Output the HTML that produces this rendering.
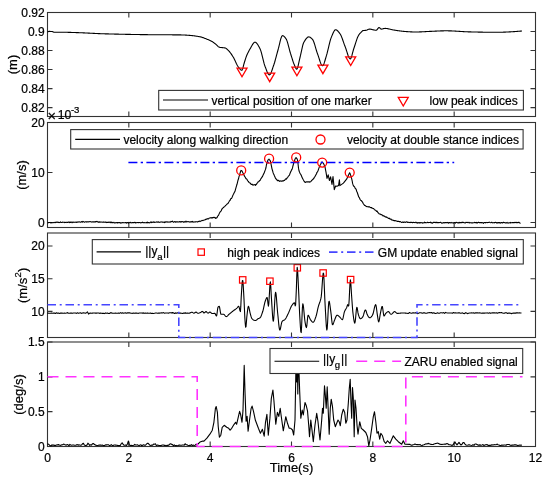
<!DOCTYPE html>
<html><head><meta charset="utf-8"><style>html,body{margin:0;padding:0;background:#fff;}svg{display:block;}</style></head>
<body>
<svg width="550" height="480" viewBox="0 0 550 480">
<rect width="550" height="480" fill="#fff"/>
<rect x="47.5" y="12.5" width="488.0" height="104.0" fill="none" stroke="#333333" stroke-width="1.1"/>
<path d="M128.83,116.5v-5M128.83,12.5v5M210.17,116.5v-5M210.17,12.5v5M291.50,116.5v-5M291.50,12.5v5M372.83,116.5v-5M372.83,12.5v5M454.17,116.5v-5M454.17,12.5v5M47.5,12.50h5M535.5,12.50h-5M47.5,31.52h5M535.5,31.52h-5M47.5,50.54h5M535.5,50.54h-5M47.5,69.56h5M535.5,69.56h-5M47.5,88.58h5M535.5,88.58h-5M47.5,107.60h5M535.5,107.60h-5" stroke="#333333" stroke-width="1.1" fill="none"/>
<rect x="47.5" y="122.5" width="488.0" height="105.0" fill="none" stroke="#333333" stroke-width="1.1"/>
<path d="M128.83,227.5v-5M128.83,122.5v5M210.17,227.5v-5M210.17,122.5v5M291.50,227.5v-5M291.50,122.5v5M372.83,227.5v-5M372.83,122.5v5M454.17,227.5v-5M454.17,122.5v5M47.5,122.50h5M535.5,122.50h-5M47.5,172.50h5M535.5,172.50h-5M47.5,222.50h5M535.5,222.50h-5" stroke="#333333" stroke-width="1.1" fill="none"/>
<rect x="47.5" y="233.0" width="488.0" height="104.5" fill="none" stroke="#333333" stroke-width="1.1"/>
<path d="M128.83,337.5v-5M128.83,233.0v5M210.17,337.5v-5M210.17,233.0v5M291.50,337.5v-5M291.50,233.0v5M372.83,337.5v-5M372.83,233.0v5M454.17,337.5v-5M454.17,233.0v5M47.5,246.06h5M535.5,246.06h-5M47.5,278.72h5M535.5,278.72h-5M47.5,311.38h5M535.5,311.38h-5" stroke="#333333" stroke-width="1.1" fill="none"/>
<rect x="47.5" y="342.0" width="488.0" height="104.5" fill="none" stroke="#333333" stroke-width="1.1"/>
<path d="M128.83,446.5v-5M128.83,342.0v5M210.17,446.5v-5M210.17,342.0v5M291.50,446.5v-5M291.50,342.0v5M372.83,446.5v-5M372.83,342.0v5M454.17,446.5v-5M454.17,342.0v5M47.5,342.00h5M535.5,342.00h-5M47.5,376.83h5M535.5,376.83h-5M47.5,411.67h5M535.5,411.67h-5M47.5,446.50h5M535.5,446.50h-5" stroke="#333333" stroke-width="1.1" fill="none"/>
<polyline points="47.50,31.90 48.00,31.67 48.50,31.48 49.00,31.40 49.50,31.40 50.00,31.41 50.50,31.43 51.00,31.45 51.50,31.47 52.00,31.50 52.50,31.63 53.00,31.87 53.50,32.10 54.00,32.20 54.50,32.20 55.00,32.20 55.50,32.20 56.00,32.20 56.50,32.20 57.00,32.20 57.50,32.20 58.00,32.20 58.50,32.20 59.00,32.20 59.50,32.20 60.00,32.20 60.50,32.20 61.00,32.20 61.50,32.21 62.00,32.21 62.50,32.21 63.00,32.22 63.50,32.23 64.00,32.24 64.50,32.24 65.00,32.25 65.50,32.26 66.00,32.28 66.50,32.29 67.00,32.30 67.50,32.31 68.00,32.33 68.50,32.34 69.00,32.36 69.50,32.37 70.00,32.39 70.50,32.40 71.00,32.42 71.50,32.43 72.00,32.45 72.50,32.47 73.00,32.48 73.50,32.50 74.00,32.51 74.50,32.53 75.00,32.55 75.50,32.56 76.00,32.58 76.50,32.59 77.00,32.61 77.50,32.63 78.00,32.64 78.50,32.66 79.00,32.68 79.50,32.70 80.00,32.72 80.50,32.74 81.00,32.76 81.50,32.78 82.00,32.80 82.50,32.82 83.00,32.84 83.50,32.87 84.00,32.89 84.50,32.91 85.00,32.94 85.50,32.96 86.00,32.99 86.50,33.01 87.00,33.04 87.50,33.06 88.00,33.09 88.50,33.11 89.00,33.14 89.50,33.16 90.00,33.19 90.50,33.22 91.00,33.24 91.50,33.27 92.00,33.29 92.50,33.32 93.00,33.34 93.50,33.37 94.00,33.39 94.50,33.42 95.00,33.44 95.50,33.47 96.00,33.49 96.50,33.51 97.00,33.54 97.50,33.56 98.00,33.58 98.50,33.60 99.00,33.62 99.50,33.64 100.00,33.66 100.50,33.68 101.00,33.70 101.50,33.72 102.00,33.74 102.50,33.75 103.00,33.77 103.50,33.79 104.00,33.80 104.50,33.81 105.00,33.83 105.50,33.84 106.00,33.86 106.50,33.87 107.00,33.88 107.50,33.90 108.00,33.91 108.50,33.92 109.00,33.94 109.50,33.95 110.00,33.96 110.50,33.98 111.00,33.99 111.50,34.00 112.00,34.01 112.50,34.03 113.00,34.04 113.50,34.05 114.00,34.06 114.50,34.08 115.00,34.09 115.50,34.10 116.00,34.11 116.50,34.13 117.00,34.14 117.50,34.15 118.00,34.16 118.50,34.17 119.00,34.18 119.50,34.20 120.00,34.21 120.50,34.22 121.00,34.23 121.50,34.24 122.00,34.25 122.50,34.26 123.00,34.27 123.50,34.28 124.00,34.29 124.50,34.30 125.00,34.31 125.50,34.33 126.00,34.34 126.50,34.35 127.00,34.36 127.50,34.37 128.00,34.38 128.50,34.39 129.00,34.39 129.50,34.40 130.00,34.41 130.50,34.42 131.00,34.43 131.50,34.44 132.00,34.45 132.50,34.46 133.00,34.47 133.50,34.48 134.00,34.49 134.50,34.49 135.00,34.50 135.50,34.51 136.00,34.52 136.50,34.53 137.00,34.53 137.50,34.54 138.00,34.55 138.50,34.56 139.00,34.57 139.50,34.57 140.00,34.58 140.50,34.59 141.00,34.59 141.50,34.60 142.00,34.61 142.50,34.61 143.00,34.62 143.50,34.63 144.00,34.63 144.50,34.64 145.00,34.65 145.50,34.65 146.00,34.66 146.50,34.66 147.00,34.67 147.50,34.67 148.00,34.68 148.50,34.69 149.00,34.69 149.50,34.70 150.00,34.70 150.50,34.70 151.00,34.71 151.50,34.71 152.00,34.72 152.50,34.72 153.00,34.73 153.50,34.73 154.00,34.73 154.50,34.74 155.00,34.74 155.50,34.74 156.00,34.74 156.50,34.75 157.00,34.75 157.50,34.75 158.00,34.76 158.50,34.76 159.00,34.76 159.50,34.76 160.00,34.76 160.50,34.77 161.00,34.77 161.50,34.77 162.00,34.77 162.50,34.78 163.00,34.78 163.50,34.78 164.00,34.78 164.50,34.78 165.00,34.79 165.50,34.79 166.00,34.79 166.50,34.79 167.00,34.79 167.50,34.80 168.00,34.80 168.50,34.80 169.00,34.80 169.50,34.81 170.00,34.81 170.50,34.81 171.00,34.82 171.50,34.82 172.00,34.82 172.50,34.83 173.00,34.83 173.50,34.83 174.00,34.84 174.50,34.84 175.00,34.85 175.50,34.85 176.00,34.85 176.50,34.86 177.00,34.86 177.50,34.87 178.00,34.88 178.50,34.88 179.00,34.89 179.50,34.89 180.00,34.90 180.50,34.91 181.00,34.92 181.50,34.93 182.00,34.95 182.50,34.96 183.00,34.98 183.50,35.00 184.00,35.02 184.50,35.05 185.00,35.07 185.50,35.10 186.00,35.13 186.50,35.16 187.00,35.19 187.50,35.22 188.00,35.26 188.50,35.29 189.00,35.33 189.50,35.36 190.00,35.40 190.50,35.44 191.00,35.48 191.50,35.53 192.00,35.58 192.50,35.63 193.00,35.68 193.50,35.74 194.00,35.80 194.50,35.87 195.00,35.94 195.50,36.01 196.00,36.09 196.50,36.17 197.00,36.25 197.50,36.33 198.00,36.42 198.50,36.51 199.00,36.61 199.50,36.71 200.00,36.81 200.50,36.91 201.00,37.02 201.50,37.15 202.00,37.29 202.50,37.45 203.00,37.62 203.50,37.81 204.00,38.00 204.50,38.20 205.00,38.40 205.50,38.60 206.00,38.80 206.50,39.00 207.00,39.20 207.50,39.40 208.00,39.60 208.50,39.81 209.00,40.02 209.50,40.24 210.00,40.48 210.50,40.72 211.00,40.97 211.50,41.23 212.00,41.51 212.50,41.82 213.00,42.16 213.50,42.51 214.00,42.88 214.50,43.27 215.00,43.66 215.50,44.05 216.00,44.44 216.50,44.85 217.00,45.32 217.50,45.83 218.00,46.33 218.50,46.77 219.00,47.11 219.50,47.30 220.00,47.39 220.50,47.45 221.00,47.50 221.50,47.55 222.00,47.60 222.50,47.65 223.00,47.69 223.50,47.73 224.00,47.78 224.50,47.84 225.00,47.92 225.50,48.10 226.00,48.38 226.50,48.75 227.00,49.18 227.50,49.64 228.00,50.11 228.50,50.59 229.00,51.11 229.50,51.69 230.00,52.31 230.50,52.97 231.00,53.66 231.50,54.39 232.00,55.15 232.50,55.93 233.00,56.73 233.50,57.54 234.00,58.40 234.50,59.40 235.00,60.48 235.50,61.60 236.00,62.74 236.50,63.83 237.00,64.85 237.50,65.76 238.00,66.50 238.50,67.17 239.00,67.84 239.50,68.49 240.00,69.08 240.50,69.58 241.00,69.95 241.50,70.16 242.00,70.11 242.50,69.23 243.00,67.67 243.50,65.73 244.00,63.73 244.50,62.00 245.00,60.46 245.50,58.90 246.00,57.38 246.50,56.00 247.00,54.80 247.50,53.68 248.00,52.63 248.50,51.64 249.00,50.71 249.50,49.83 250.00,49.00 250.50,48.15 251.00,47.25 251.50,46.33 252.00,45.43 252.50,44.58 253.00,43.81 253.50,43.16 254.00,42.65 254.50,42.32 255.00,42.20 255.50,42.30 256.00,42.58 256.50,43.01 257.00,43.59 257.50,44.28 258.00,45.07 258.50,45.93 259.00,46.85 259.50,47.79 260.00,48.75 260.50,49.90 261.00,51.39 261.50,53.14 262.00,55.08 262.50,57.13 263.00,59.20 263.50,61.23 264.00,63.13 264.50,64.83 265.00,66.25 265.50,67.54 266.00,68.88 266.50,70.21 267.00,71.48 267.50,72.62 268.00,73.59 268.50,74.33 269.00,74.78 269.50,74.89 270.00,74.58 270.50,73.90 271.00,72.90 271.50,71.66 272.00,70.25 272.50,68.74 273.00,67.20 273.50,65.71 274.00,64.28 274.50,62.72 275.00,61.02 275.50,59.21 276.00,57.34 276.50,55.45 277.00,53.57 277.50,51.74 278.00,50.00 278.50,48.18 279.00,46.15 279.50,44.03 280.00,41.92 280.50,39.95 281.00,38.21 281.50,36.84 282.00,35.93 282.50,35.60 283.00,35.69 283.50,35.94 284.00,36.33 284.50,36.84 285.00,37.42 285.50,38.07 286.00,38.75 286.50,39.64 287.00,40.88 287.50,42.41 288.00,44.15 288.50,46.02 289.00,47.96 289.50,49.89 290.00,51.74 290.50,53.44 291.00,55.01 291.50,56.61 292.00,58.21 292.50,59.79 293.00,61.32 293.50,62.75 294.00,64.06 294.50,65.23 295.00,66.43 295.50,67.63 296.00,68.60 296.50,69.15 297.00,69.02 297.50,68.02 298.00,66.35 298.50,64.23 299.00,61.90 299.50,59.58 300.00,57.50 300.50,55.47 301.00,53.20 301.50,50.84 302.00,48.51 302.50,46.35 303.00,44.47 303.50,43.02 304.00,42.05 304.50,41.19 305.00,40.36 305.50,39.59 306.00,38.89 306.50,38.28 307.00,37.76 307.50,37.35 308.00,37.07 308.50,36.92 309.00,36.92 309.50,37.03 310.00,37.26 310.50,37.57 311.00,37.95 311.50,38.40 312.00,38.88 312.50,39.40 313.00,40.11 313.50,41.15 314.00,42.46 314.50,43.96 315.00,45.61 315.50,47.34 316.00,49.08 316.50,50.77 317.00,52.35 317.50,53.75 318.00,55.13 318.50,56.63 319.00,58.20 319.50,59.77 320.00,61.28 320.50,62.67 321.00,63.88 321.50,64.84 322.00,65.50 322.50,65.79 323.00,65.60 323.50,64.86 324.00,63.67 324.50,62.18 325.00,60.49 325.50,58.74 326.00,57.04 326.50,55.45 327.00,53.69 327.50,51.73 328.00,49.66 328.50,47.53 329.00,45.40 329.50,43.34 330.00,41.40 330.50,39.65 331.00,38.14 331.50,36.89 332.00,35.66 332.50,34.43 333.00,33.25 333.50,32.17 334.00,31.23 334.50,30.49 335.00,29.98 335.50,29.76 336.00,29.80 336.50,29.99 337.00,30.31 337.50,30.73 338.00,31.24 338.50,31.81 339.00,32.44 339.50,33.09 340.00,33.75 340.50,34.52 341.00,35.50 341.50,36.65 342.00,37.93 342.50,39.30 343.00,40.73 343.50,42.17 344.00,43.60 344.50,44.97 345.00,46.25 345.50,47.57 346.00,49.04 346.50,50.60 347.00,52.19 347.50,53.74 348.00,55.20 348.50,56.50 349.00,57.58 349.50,58.37 350.00,58.82 350.50,58.83 351.00,58.14 351.50,56.85 352.00,55.15 352.50,53.23 353.00,51.29 353.50,49.51 354.00,48.03 354.50,46.52 355.00,44.96 355.50,43.39 356.00,41.83 356.50,40.31 357.00,38.88 357.50,37.57 358.00,36.40 358.50,35.42 359.00,34.63 359.50,33.98 360.00,33.41 360.50,32.90 361.00,32.40 361.50,31.85 362.00,31.30 362.50,30.84 363.00,30.60 363.50,30.52 364.00,30.47 364.50,30.44 365.00,30.40 365.50,30.36 366.00,30.30 366.50,30.18 367.00,29.99 367.50,29.77 368.00,29.54 368.50,29.33 369.00,29.18 369.50,29.10 370.00,29.12 370.50,29.17 371.00,29.27 371.50,29.38 372.00,29.50 372.50,29.63 373.00,29.74 373.50,29.84 374.00,29.95 374.50,30.06 375.00,30.17 375.50,30.25 376.00,30.30 376.50,30.21 377.00,29.76 377.50,29.09 378.00,28.39 378.50,27.83 379.00,27.60 379.50,27.78 380.00,28.20 380.50,28.68 381.00,29.03 381.50,29.09 382.00,29.03 382.50,28.93 383.00,28.79 383.50,28.65 384.00,28.53 384.50,28.43 385.00,28.40 385.50,28.41 386.00,28.44 386.50,28.50 387.00,28.56 387.50,28.65 388.00,28.74 388.50,28.85 389.00,28.96 389.50,29.08 390.00,29.21 390.50,29.33 391.00,29.46 391.50,29.58 392.00,29.69 392.50,29.80 393.00,29.90 393.50,29.98 394.00,30.06 394.50,30.14 395.00,30.22 395.50,30.29 396.00,30.37 396.50,30.44 397.00,30.52 397.50,30.59 398.00,30.67 398.50,30.74 399.00,30.81 399.50,30.88 400.00,30.95 400.50,31.01 401.00,31.07 401.50,31.13 402.00,31.19 402.50,31.25 403.00,31.30 403.50,31.35 404.00,31.40 404.50,31.44 405.00,31.48 405.50,31.51 406.00,31.55 406.50,31.58 407.00,31.62 407.50,31.65 408.00,31.69 408.50,31.72 409.00,31.76 409.50,31.79 410.00,31.82 410.50,31.85 411.00,31.87 411.50,31.90 412.00,31.92 412.50,31.94 413.00,31.96 413.50,31.97 414.00,31.98 414.50,31.99 415.00,32.00 415.50,32.00 416.00,32.00 416.50,31.99 417.00,31.99 417.50,31.98 418.00,31.97 418.50,31.95 419.00,31.94 419.50,31.92 420.00,31.90 420.50,31.88 421.00,31.86 421.50,31.83 422.00,31.81 422.50,31.78 423.00,31.76 423.50,31.73 424.00,31.70 424.50,31.68 425.00,31.65 425.50,31.62 426.00,31.59 426.50,31.57 427.00,31.54 427.50,31.51 428.00,31.49 428.50,31.47 429.00,31.44 429.50,31.42 430.00,31.40 430.50,31.38 431.00,31.36 431.50,31.34 432.00,31.31 432.50,31.29 433.00,31.27 433.50,31.24 434.00,31.22 434.50,31.19 435.00,31.17 435.50,31.14 436.00,31.12 436.50,31.09 437.00,31.07 437.50,31.04 438.00,31.02 438.50,31.00 439.00,30.98 439.50,30.95 440.00,30.93 440.50,30.92 441.00,30.90 441.50,30.88 442.00,30.86 442.50,30.85 443.00,30.84 443.50,30.83 444.00,30.82 444.50,30.81 445.00,30.80 445.50,30.80 446.00,30.80 446.50,30.80 447.00,30.80 447.50,30.81 448.00,30.82 448.50,30.83 449.00,30.84 449.50,30.85 450.00,30.87 450.50,30.89 451.00,30.90 451.50,30.92 452.00,30.95 452.50,30.97 453.00,30.99 453.50,31.02 454.00,31.04 454.50,31.07 455.00,31.10 455.50,31.13 456.00,31.16 456.50,31.19 457.00,31.22 457.50,31.25 458.00,31.28 458.50,31.31 459.00,31.34 459.50,31.38 460.00,31.41 460.50,31.44 461.00,31.47 461.50,31.50 462.00,31.53 462.50,31.56 463.00,31.59 463.50,31.62 464.00,31.65 464.50,31.68 465.00,31.70 465.50,31.73 466.00,31.75 466.50,31.78 467.00,31.80 467.50,31.82 468.00,31.84 468.50,31.86 469.00,31.87 469.50,31.89 470.00,31.90 470.50,31.91 471.00,31.92 471.50,31.93 472.00,31.95 472.50,31.96 473.00,31.97 473.50,31.98 474.00,31.99 474.50,32.00 475.00,32.01 475.50,32.03 476.00,32.04 476.50,32.05 477.00,32.06 477.50,32.07 478.00,32.08 478.50,32.09 479.00,32.10 479.50,32.11 480.00,32.12 480.50,32.13 481.00,32.14 481.50,32.15 482.00,32.16 482.50,32.17 483.00,32.18 483.50,32.18 484.00,32.19 484.50,32.20 485.00,32.21 485.50,32.22 486.00,32.22 486.50,32.23 487.00,32.24 487.50,32.24 488.00,32.25 488.50,32.26 489.00,32.26 489.50,32.27 490.00,32.27 490.50,32.28 491.00,32.28 491.50,32.28 492.00,32.29 492.50,32.29 493.00,32.29 493.50,32.29 494.00,32.30 494.50,32.30 495.00,32.30 495.50,32.30 496.00,32.30 496.50,32.30 497.00,32.30 497.50,32.29 498.00,32.29 498.50,32.28 499.00,32.28 499.50,32.27 500.00,32.26 500.50,32.25 501.00,32.24 501.50,32.23 502.00,32.21 502.50,32.20 503.00,32.18 503.50,32.17 504.00,32.15 504.50,32.13 505.00,32.11 505.50,32.09 506.00,32.07 506.50,32.04 507.00,32.02 507.50,32.00 508.00,31.97 508.50,31.95 509.00,31.92 509.50,31.89 510.00,31.86 510.50,31.83 511.00,31.80 511.50,31.77 512.00,31.74 512.50,31.71 513.00,31.68 513.50,31.64 514.00,31.61 514.50,31.58 515.00,31.54 515.50,31.51 516.00,31.47 516.50,31.43 517.00,31.40 517.50,31.36 518.00,31.32 518.50,31.28 519.00,31.24 519.50,31.20 520.00,31.16 520.50,31.12 521.00,31.08 521.50,31.04 522.00,31.00" fill="none" stroke="#000" stroke-width="1.1" stroke-linejoin="round"/>
<polyline points="47.50,222.70 48.00,222.77 48.50,222.62 49.00,222.46 49.50,222.56 50.00,222.41 50.50,222.67 51.00,222.98 51.50,222.52 52.00,222.48 52.50,222.75 53.00,222.70 53.50,222.63 54.00,222.37 54.50,222.58 55.00,222.76 55.50,222.24 56.00,222.45 56.50,222.08 57.00,222.23 57.50,222.08 58.00,222.47 58.50,222.20 59.00,222.58 59.50,222.54 60.00,222.45 60.50,221.86 61.00,222.34 61.50,222.45 62.00,222.49 62.50,222.07 63.00,222.32 63.50,222.18 64.00,222.22 64.50,222.67 65.00,222.20 65.50,222.38 66.00,222.60 66.50,222.22 67.00,222.33 67.50,222.38 68.00,222.36 68.50,222.02 69.00,222.34 69.50,222.65 70.00,221.91 70.50,222.50 71.00,222.31 71.50,222.11 72.00,222.75 72.50,222.43 73.00,221.93 73.50,222.23 74.00,222.34 74.50,222.14 75.00,222.34 75.50,222.14 76.00,222.30 76.50,222.48 77.00,221.94 77.50,222.14 78.00,221.96 78.50,222.09 79.00,221.74 79.50,221.88 80.00,221.96 80.50,222.22 81.00,222.26 81.50,221.63 82.00,221.75 82.50,222.10 83.00,221.42 83.50,221.79 84.00,221.87 84.50,222.20 85.00,222.04 85.50,221.78 86.00,221.76 86.50,221.78 87.00,222.21 87.50,221.72 88.00,221.74 88.50,221.90 89.00,221.78 89.50,221.75 90.00,221.52 90.50,221.80 91.00,221.69 91.50,222.09 92.00,221.97 92.50,221.80 93.00,221.98 93.50,221.74 94.00,222.09 94.50,221.84 95.00,222.00 95.50,221.54 96.00,221.96 96.50,221.47 97.00,221.40 97.50,221.85 98.00,221.72 98.50,222.00 99.00,222.54 99.50,221.79 100.00,221.86 100.50,222.09 101.00,222.18 101.50,222.04 102.00,222.05 102.50,222.30 103.00,222.28 103.50,221.92 104.00,222.18 104.50,222.23 105.00,221.98 105.50,222.34 106.00,222.08 106.50,222.57 107.00,222.39 107.50,222.39 108.00,222.25 108.50,222.39 109.00,221.94 109.50,222.18 110.00,222.58 110.50,221.98 111.00,222.75 111.50,222.12 112.00,222.77 112.50,222.39 113.00,222.81 113.50,222.67 114.00,222.27 114.50,222.99 115.00,223.05 115.50,222.69 116.00,222.65 116.50,222.69 117.00,222.50 117.50,223.03 118.00,222.63 118.50,222.76 119.00,222.59 119.50,222.63 120.00,222.48 120.50,223.11 121.00,222.76 121.50,223.04 122.00,222.80 122.50,222.63 123.00,222.72 123.50,222.66 124.00,222.80 124.50,222.70 125.00,222.71 125.50,222.44 126.00,222.58 126.50,223.19 127.00,222.61 127.50,222.50 128.00,222.85 128.50,223.11 129.00,222.39 129.50,222.69 130.00,222.58 130.50,222.29 131.00,222.91 131.50,222.71 132.00,222.73 132.50,222.52 133.00,222.81 133.50,222.56 134.00,222.65 134.50,222.40 135.00,222.36 135.50,222.99 136.00,222.52 136.50,222.71 137.00,222.62 137.50,222.51 138.00,222.49 138.50,222.76 139.00,222.52 139.50,222.55 140.00,222.58 140.50,222.86 141.00,222.73 141.50,222.64 142.00,222.40 142.50,222.18 143.00,222.76 143.50,222.75 144.00,222.47 144.50,222.63 145.00,222.68 145.50,222.68 146.00,222.70 146.50,222.34 147.00,222.83 147.50,222.13 148.00,222.65 148.50,222.55 149.00,222.63 149.50,222.88 150.00,222.77 150.50,222.11 151.00,221.96 151.50,222.58 152.00,222.11 152.50,222.36 153.00,222.56 153.50,221.93 154.00,221.80 154.50,222.39 155.00,222.32 155.50,222.24 156.00,222.30 156.50,222.06 157.00,221.89 157.50,222.22 158.00,222.00 158.50,221.83 159.00,222.35 159.50,222.20 160.00,222.30 160.50,221.94 161.00,222.02 161.50,221.92 162.00,221.94 162.50,222.19 163.00,221.94 163.50,222.21 164.00,222.20 164.50,222.61 165.00,221.74 165.50,222.30 166.00,222.04 166.50,222.05 167.00,221.68 167.50,221.92 168.00,222.21 168.50,221.99 169.00,222.02 169.50,221.92 170.00,222.27 170.50,221.96 171.00,221.41 171.50,221.78 172.00,221.45 172.50,221.12 173.00,221.79 173.50,222.25 174.00,221.92 174.50,221.60 175.00,221.65 175.50,222.16 176.00,221.91 176.50,221.88 177.00,221.84 177.50,221.86 178.00,222.05 178.50,221.98 179.00,221.89 179.50,221.57 180.00,221.95 180.50,221.65 181.00,222.09 181.50,221.49 182.00,221.77 182.50,221.80 183.00,221.47 183.50,222.23 184.00,222.17 184.50,221.68 185.00,221.99 185.50,221.89 186.00,221.15 186.50,221.86 187.00,221.78 187.50,221.82 188.00,221.53 188.50,221.73 189.00,221.76 189.50,222.10 190.00,221.88 190.50,221.80 191.00,222.18 191.50,221.66 192.00,221.70 192.50,221.35 193.00,222.19 193.50,222.04 194.00,222.03 194.50,221.97 195.00,221.83 195.50,221.85 196.00,221.73 196.50,221.72 197.00,221.74 197.50,222.04 198.00,221.72 198.50,221.48 199.00,221.25 199.50,221.13 200.00,221.57 200.50,221.17 201.00,220.93 201.50,220.70 202.00,220.38 202.50,220.51 203.00,220.62 203.50,220.18 204.00,220.08 204.50,219.93 205.00,219.84 205.50,219.23 206.00,219.38 206.50,219.03 207.00,219.27 207.50,218.66 208.00,218.81 208.50,218.86 209.00,218.23 209.50,218.01 210.00,218.07 210.50,217.91 211.00,217.58 211.50,217.89 212.00,218.22 212.50,217.61 213.00,217.58 213.50,217.35 214.00,217.68 214.50,217.37 215.00,217.57 215.50,218.34 216.00,217.87 216.50,218.14 217.00,217.66 217.50,216.55 218.00,215.79 218.50,215.40 219.00,214.08 219.50,213.14 220.00,212.08 220.50,211.55 221.00,211.05 221.50,210.12 222.00,208.92 222.50,208.32 223.00,207.85 223.50,207.54 224.00,206.94 224.50,206.59 225.00,206.16 225.50,205.55 226.00,205.14 226.50,204.69 227.00,204.07 227.50,203.64 228.00,203.40 228.50,202.49 229.00,201.74 229.50,200.66 230.00,200.51 230.50,199.22 231.00,198.61 231.50,198.38 232.00,197.49 232.50,196.35 233.00,194.97 233.50,194.24 234.00,193.04 234.50,192.17 235.00,191.30 235.50,189.45 236.00,187.69 236.50,185.86 237.00,184.27 237.50,182.33 238.00,180.20 238.50,178.76 239.00,176.68 239.50,175.26 240.00,173.31 240.50,171.74 241.00,170.41 241.50,170.61 242.00,171.02 242.50,171.92 243.00,173.09 243.50,174.01 244.00,174.94 244.50,176.30 245.00,176.85 245.50,177.73 246.00,178.67 246.50,178.68 247.00,179.56 247.50,180.40 248.00,181.07 248.50,181.49 249.00,182.45 249.50,182.81 250.00,182.98 250.50,183.50 251.00,184.31 251.50,184.49 252.00,184.05 252.50,184.96 253.00,184.86 253.50,185.13 254.00,184.75 254.50,184.81 255.00,184.62 255.50,185.41 256.00,184.40 256.50,184.37 257.00,183.25 257.50,182.88 258.00,181.88 258.50,181.71 259.00,181.53 259.50,180.43 260.00,180.42 260.50,179.60 261.00,178.55 261.50,177.94 262.00,177.15 262.50,176.39 263.00,175.35 263.50,174.27 264.00,173.32 264.50,171.96 265.00,170.62 265.50,169.41 266.00,167.50 266.50,164.53 267.00,162.80 267.50,161.21 268.00,160.03 268.50,159.66 269.00,159.08 269.50,159.96 270.00,160.15 270.50,161.55 271.00,163.80 271.50,166.42 272.00,168.81 272.50,170.48 273.00,172.38 273.50,173.70 274.00,174.65 274.50,176.00 275.00,177.09 275.50,178.30 276.00,178.71 276.50,179.64 277.00,179.76 277.50,180.66 278.00,180.41 278.50,180.40 279.00,180.98 279.50,181.39 280.00,180.82 280.50,180.99 281.00,181.11 281.50,181.01 282.00,181.31 282.50,180.89 283.00,180.75 283.50,180.89 284.00,180.35 284.50,180.42 285.00,179.75 285.50,179.30 286.00,178.70 286.50,179.11 287.00,178.01 287.50,177.55 288.00,176.85 288.50,176.24 289.00,175.49 289.50,175.12 290.00,173.45 290.50,172.30 291.00,171.33 291.50,170.07 292.00,169.34 292.50,167.93 293.00,165.74 293.50,163.80 294.00,162.36 294.50,161.41 295.00,158.95 295.50,158.58 296.00,157.55 296.50,158.30 297.00,158.63 297.50,160.13 298.00,163.50 298.50,168.13 299.00,170.76 299.50,172.17 300.00,173.13 300.50,174.08 301.00,174.78 301.50,176.10 302.00,177.21 302.50,178.26 303.00,179.30 303.50,179.99 304.00,181.06 304.50,181.66 305.00,182.29 305.50,182.47 306.00,181.97 306.50,181.81 307.00,181.98 307.50,181.85 308.00,181.81 308.50,181.99 309.00,181.74 309.50,182.15 310.00,181.89 310.50,181.75 311.00,181.30 311.50,180.72 312.00,180.16 312.50,179.80 313.00,179.18 313.50,178.82 314.00,178.12 314.50,177.04 315.00,176.59 315.50,175.36 316.00,174.61 316.50,173.73 317.00,172.29 317.50,171.82 318.00,170.71 318.50,169.35 319.00,167.92 319.50,166.60 320.00,165.24 320.50,164.43 321.00,163.46 321.50,162.78 322.00,161.95 322.50,162.35 323.00,162.81 323.50,163.55 324.00,164.49 324.50,165.88 325.00,166.91 325.50,169.58 326.00,172.15 326.50,175.17 327.00,178.40 328.20,174.80 329.40,180.50 330.60,176.80 332.00,184.50 333.00,176.50 334.30,189.60 335.60,186.00 337.00,186.30 338.60,185.40 339.40,179.80 339.90,185.60 343.40,183.10 346.60,179.20 349.60,172.80 350.10,173.65 350.60,175.11 351.10,176.53 351.60,178.37 352.10,180.52 352.60,183.38 353.10,184.94 353.60,185.92 354.10,186.56 354.60,186.86 355.10,188.22 355.60,188.78 356.10,189.20 356.60,191.15 357.10,192.04 357.60,193.48 358.10,194.99 358.60,196.69 359.10,197.29 359.60,198.31 360.10,199.47 360.60,200.15 361.10,200.41 361.60,201.04 362.10,201.45 362.60,202.29 363.10,203.32 363.60,204.05 364.10,204.67 364.60,205.49 365.10,205.48 365.60,205.94 366.10,206.35 366.60,206.49 367.10,206.76 367.60,206.72 368.10,206.66 368.60,206.95 369.10,206.75 369.60,206.74 370.10,207.48 370.60,207.53 371.10,207.84 371.60,207.57 372.10,208.14 372.60,208.34 373.10,208.54 373.60,208.47 374.10,209.25 374.60,209.86 375.10,210.07 375.60,210.21 376.10,210.78 376.60,211.43 377.10,211.01 377.60,212.13 378.10,212.74 378.60,213.20 379.10,213.83 379.60,214.01 380.10,214.09 380.60,214.35 381.10,214.72 381.60,214.63 382.10,214.99 382.60,215.48 383.10,215.99 383.60,215.71 384.10,215.98 384.60,216.29 385.10,216.82 385.60,216.71 386.10,217.33 386.60,216.97 387.10,217.40 387.60,217.65 388.10,218.16 388.60,218.49 389.10,218.12 389.60,218.53 390.10,219.10 390.60,219.10 391.10,219.11 391.60,219.95 392.10,219.99 392.60,220.16 393.10,220.08 393.60,220.60 394.10,220.43 394.60,220.91 395.10,220.54 395.60,220.68 396.10,221.06 396.60,220.94 397.10,221.39 397.60,221.38 398.10,221.17 398.60,221.50 399.10,221.47 399.60,221.86 400.10,221.54 400.60,221.66 401.10,222.14 401.60,222.46 402.10,222.46 402.60,222.02 403.10,222.11 403.60,222.49 404.10,222.11 404.60,221.93 405.10,222.23 405.60,222.35 406.10,222.05 406.60,221.87 407.10,221.95 407.60,222.50 408.10,222.17 408.60,222.34 409.10,222.45 409.60,222.58 410.10,222.36 410.60,222.59 411.10,222.26 411.60,222.41 412.10,222.26 412.60,222.81 413.10,222.53 413.60,222.37 414.10,222.47 414.60,222.52 415.10,222.76 415.60,222.19 416.10,222.33 416.60,222.50 417.10,223.23 417.60,222.84 418.10,222.58 418.60,222.78 419.10,223.12 419.60,222.55 420.10,222.52 420.60,222.92 421.10,222.74 421.60,222.79 422.10,222.49 422.60,223.10 423.10,223.05 423.60,222.77 424.10,222.80 424.60,222.12 425.10,222.79 425.60,222.59 426.10,222.74 426.60,222.81 427.10,222.55 427.60,222.22 428.10,222.73 428.60,222.46 429.10,222.56 429.60,222.50 430.10,222.56 430.60,222.07 431.10,222.96 431.60,222.72 432.10,222.93 432.60,223.15 433.10,222.66 433.60,222.21 434.10,222.44 434.60,222.36 435.10,222.54 435.60,222.68 436.10,222.16 436.60,222.75 437.10,222.29 437.60,222.74 438.10,222.64 438.60,222.59 439.10,222.65 439.60,222.54 440.10,222.52 440.60,222.25 441.10,222.67 441.60,223.14 442.10,223.17 442.60,223.01 443.10,222.85 443.60,222.51 444.10,223.04 444.60,222.67 445.10,222.66 445.60,222.61 446.10,222.71 446.60,222.58 447.10,222.66 447.60,222.41 448.10,222.59 448.60,223.26 449.10,222.67 449.60,222.63 450.10,222.82 450.60,222.87 451.10,222.41 451.60,222.64 452.10,222.92 452.60,222.76 453.10,222.72 453.60,223.08 454.10,222.52 454.60,222.71 455.10,222.56 455.60,223.07 456.10,222.21 456.60,222.53 457.10,222.56 457.60,222.86 458.10,222.85 458.60,223.05 459.10,222.30 459.60,222.88 460.10,222.62 460.60,222.53 461.10,222.83 461.60,222.47 462.10,222.18 462.60,222.61 463.10,222.32 463.60,222.54 464.10,222.79 464.60,222.78 465.10,223.10 465.60,222.65 466.10,222.32 466.60,222.51 467.10,222.47 467.60,222.40 468.10,222.81 468.60,222.54 469.10,222.21 469.60,222.87 470.10,222.67 470.60,222.79 471.10,222.73 471.60,222.86 472.10,222.71 472.60,223.01 473.10,222.81 473.60,222.80 474.10,222.80 474.60,222.33 475.10,222.66 475.60,222.63 476.10,222.75 476.60,222.36 477.10,223.11 477.60,222.72 478.10,222.39 478.60,222.27 479.10,222.63 479.60,222.67 480.10,222.52 480.60,222.72 481.10,222.53 481.60,222.83 482.10,222.51 482.60,222.68 483.10,222.94 483.60,223.34 484.10,222.44 484.60,222.58 485.10,222.48 485.60,222.89 486.10,222.40 486.60,222.57 487.10,222.68 487.60,222.44 488.10,222.45 488.60,222.57 489.10,222.16 489.60,222.32 490.10,222.58 490.60,222.72 491.10,222.64 491.60,222.24 492.10,222.56 492.60,222.88 493.10,222.82 493.60,222.66 494.10,222.46 494.60,222.83 495.10,222.53 495.60,222.38 496.10,222.47 496.60,223.03 497.10,222.73 497.60,222.96 498.10,222.55 498.60,222.90 499.10,222.52 499.60,222.63 500.10,223.29 500.60,222.86 501.10,222.54 501.60,222.64 502.10,222.74 502.60,222.96 503.10,222.54 503.60,222.22 504.10,222.58 504.60,222.66 505.10,222.68 505.60,222.98 506.10,222.73 506.60,222.85 507.10,222.37 507.60,222.86 508.10,223.17 508.60,222.84 509.10,222.70 509.60,222.68 510.10,223.08 510.60,222.40 511.10,222.61 511.60,222.75 512.10,222.82 512.60,222.52 513.10,222.70 513.60,222.56 514.10,222.65 514.60,222.59 515.10,222.34 515.60,222.61 516.10,222.84 516.60,222.37 517.10,222.55 517.60,222.78 518.10,222.34 518.60,222.65 519.10,222.34 519.60,222.89 520.10,223.18 520.60,223.11" fill="none" stroke="#000" stroke-width="1.1" stroke-linejoin="round"/>
<polyline points="47.50,313.10 49.50,313.20 50.50,313.20 51.50,313.05 52.50,313.26 53.50,313.13 54.50,313.12 55.50,313.44 56.50,312.81 57.50,313.33 58.50,313.09 59.50,313.41 60.50,313.14 61.50,312.95 62.50,313.16 63.50,313.26 64.50,313.11 65.50,313.21 66.50,312.99 67.50,312.63 68.50,313.30 69.50,313.25 70.50,313.13 71.50,313.12 72.50,313.33 73.50,313.00 74.50,312.94 75.50,313.06 76.50,313.36 77.50,312.79 78.50,313.36 79.50,312.96 80.50,312.86 81.50,313.38 82.50,313.08 83.50,312.81 84.50,313.02 85.50,313.29 86.50,312.66 87.50,311.89 88.50,314.07 89.50,313.28 90.50,312.96 91.50,313.18 92.50,313.09 93.50,312.98 94.50,312.99 95.50,313.11 96.50,313.11 97.50,312.98 98.50,313.01 99.50,313.34 100.50,313.15 101.50,313.29 102.50,313.36 103.50,313.23 104.50,313.60 105.50,312.92 106.50,313.28 107.50,313.03 108.50,313.51 109.50,313.47 110.50,312.67 111.50,312.89 112.50,313.25 113.50,313.27 114.50,313.26 115.50,313.08 116.50,313.20 117.50,313.24 118.50,313.08 119.50,313.33 120.50,312.60 121.50,313.24 122.50,312.87 123.50,313.31 124.50,313.05 125.50,312.90 126.50,313.18 127.50,312.90 128.50,312.90 129.50,312.76 130.50,313.09 131.50,313.21 132.50,313.33 133.50,313.07 134.50,313.33 135.50,313.10 136.50,313.08 137.50,313.23 138.50,313.33 139.50,313.02 140.50,313.05 141.50,313.06 142.50,313.12 143.50,312.90 144.50,313.33 145.50,313.01 146.50,313.20 147.50,312.92 148.50,313.18 149.50,313.19 150.50,313.01 151.50,313.54 152.50,313.18 153.50,313.49 154.50,313.31 155.50,312.95 156.50,313.02 157.50,313.20 158.50,313.11 159.50,313.11 160.50,313.04 161.50,312.70 162.50,313.05 163.50,312.61 164.50,313.18 165.50,312.94 166.50,312.94 167.50,313.05 168.50,313.16 169.50,312.78 170.50,312.72 171.50,312.87 172.50,312.65 173.50,312.89 174.50,313.45 175.50,312.87 176.50,313.24 177.50,312.80 178.50,313.17 179.50,313.03 180.50,313.09 181.50,313.23 182.50,313.49 183.50,313.14 184.50,313.13 185.50,312.89 186.50,313.23 187.50,313.05 188.50,313.28 189.50,313.09 190.00,313.00 190.40,312.74 190.80,312.54 191.20,312.40 191.60,312.32 192.00,312.30 192.40,312.39 192.80,312.62 193.20,312.88 193.60,313.11 194.00,313.20 194.40,313.09 194.80,312.81 195.20,312.49 195.60,312.21 196.00,312.10 196.40,312.22 196.80,312.52 197.20,312.88 197.60,313.18 198.00,313.30 198.40,313.26 198.80,313.17 199.20,313.03 199.60,312.86 200.00,312.67 200.40,312.49 200.80,312.30 201.20,312.05 201.60,311.77 202.00,311.53 202.40,311.41 202.80,311.57 203.20,312.12 203.60,312.72 204.00,313.00 204.40,312.85 204.80,312.51 205.20,312.09 205.60,311.75 206.00,311.60 206.40,311.76 206.80,312.13 207.20,312.57 207.60,312.94 208.00,313.10 208.40,312.99 208.80,312.71 209.20,312.39 209.60,312.11 210.00,312.00 210.40,312.16 210.80,312.53 211.20,312.97 211.60,313.34 212.00,313.50 212.40,313.49 212.80,313.48 213.20,313.46 213.60,313.44 214.00,313.42 214.40,313.41 214.80,313.40 215.20,313.76 215.60,314.59 216.00,315.46 216.40,315.97 216.80,315.15 217.20,312.26 217.60,309.02 218.00,307.20 218.40,306.74 218.80,306.42 219.20,306.30 219.60,307.31 220.00,309.64 220.40,312.23 220.80,314.03 221.20,314.30 221.60,314.30 222.00,314.30 222.40,314.30 222.80,314.30 223.20,314.30 223.60,314.30 224.00,314.44 224.40,314.79 224.80,315.26 225.20,315.77 225.60,316.22 226.00,316.52 226.40,316.59 226.80,316.46 227.20,316.17 227.60,315.78 228.00,315.34 228.40,314.89 228.80,314.48 229.20,314.13 229.60,313.80 230.00,313.47 230.40,313.15 230.80,312.82 231.20,312.50 231.60,312.18 232.00,311.86 232.40,311.54 232.80,311.22 233.20,310.91 233.60,310.60 234.00,310.30 234.40,310.01 234.80,309.72 235.20,309.43 235.60,309.14 236.00,308.84 236.40,308.52 236.80,308.19 237.20,307.78 237.60,307.27 238.00,306.76 238.40,306.40 238.80,306.35 239.20,307.41 239.60,309.18 240.00,310.86 240.40,311.60 240.80,306.41 241.20,297.40 241.60,290.96 242.00,284.66 242.40,280.43 242.80,280.45 243.20,284.91 243.60,291.85 244.00,299.20 244.40,308.06 244.80,317.09 245.20,323.01 245.60,327.17 246.00,326.62 246.40,322.29 246.80,317.15 247.20,313.56 247.60,310.17 248.00,307.43 248.40,306.30 248.80,306.96 249.20,308.59 249.60,310.66 250.00,312.62 250.40,314.10 250.80,315.55 251.20,316.92 251.60,318.04 252.00,318.70 252.40,319.06 252.80,319.39 253.20,319.68 253.60,319.93 254.00,320.14 254.40,320.30 254.80,320.42 255.20,320.48 255.60,320.49 256.00,320.37 256.40,320.12 256.80,319.78 257.20,319.41 257.60,319.06 258.00,318.76 258.40,318.55 258.80,318.39 259.20,318.24 259.60,318.05 260.00,317.80 260.40,317.36 260.80,316.68 261.20,315.81 261.60,314.78 262.00,313.66 262.40,312.49 262.80,311.29 263.20,309.81 263.60,308.06 264.00,306.18 264.40,304.32 264.80,302.64 265.20,301.27 265.60,300.20 266.00,299.15 266.40,298.25 266.80,297.65 267.20,297.63 267.60,300.07 268.00,303.73 268.40,306.17 268.80,303.82 269.20,297.50 269.60,290.52 270.00,283.62 270.40,281.75 270.80,286.52 271.20,294.15 271.60,300.60 272.00,306.91 272.40,313.34 272.80,318.57 273.20,321.27 273.60,320.04 274.00,314.93 274.40,307.75 274.80,300.34 275.20,294.54 275.60,292.20 276.00,293.66 276.40,297.40 276.80,302.43 277.20,307.78 277.60,312.45 278.00,316.30 278.40,320.53 278.80,324.63 279.20,327.96 279.60,329.93 280.00,330.03 280.40,328.85 280.80,326.94 281.20,324.77 281.60,322.82 282.00,321.55 282.40,321.09 282.80,320.78 283.20,320.55 283.60,320.36 284.00,320.16 284.40,319.92 284.80,319.60 285.20,319.16 285.60,318.60 286.00,317.95 286.40,317.23 286.80,316.46 287.20,315.65 287.60,314.82 288.00,314.00 288.40,313.20 288.80,312.33 289.20,311.38 289.60,310.38 290.00,309.37 290.40,308.38 290.80,307.44 291.20,306.59 291.60,305.85 292.00,305.26 292.40,304.71 292.80,304.16 293.20,303.66 293.60,303.24 294.00,302.95 294.40,302.81 294.80,303.71 295.20,305.86 295.60,305.02 296.00,297.31 296.40,287.96 296.80,274.93 297.20,267.40 297.60,270.41 298.00,277.64 298.40,286.34 298.80,294.56 299.20,304.17 299.60,313.36 300.00,320.28 300.40,326.79 300.80,331.59 301.20,332.61 301.60,326.81 302.00,317.01 302.40,307.79 302.80,303.70 303.20,304.89 303.60,307.93 304.00,312.03 304.40,316.40 304.80,320.24 305.20,322.84 305.60,325.05 306.00,326.85 306.40,327.60 306.80,325.86 307.20,321.95 307.60,317.79 308.00,315.32 308.40,315.36 308.80,315.98 309.20,316.89 309.60,317.92 310.00,318.89 310.40,319.60 310.80,320.14 311.20,320.70 311.60,321.22 312.00,321.67 312.40,322.03 312.80,322.25 313.20,322.29 313.60,322.02 314.00,321.46 314.40,320.66 314.80,319.70 315.20,318.64 315.60,317.54 316.00,316.42 316.40,315.00 316.80,313.32 317.20,311.51 317.60,309.66 318.00,307.89 318.40,306.30 318.80,304.98 319.20,303.85 319.60,302.79 320.00,301.69 320.40,300.43 320.80,298.90 321.20,296.90 321.60,292.94 322.00,287.39 322.40,281.44 322.80,276.30 323.20,273.15 323.60,273.58 324.00,279.60 324.40,288.90 324.80,298.67 325.20,306.27 325.60,313.65 326.00,321.05 326.40,327.00 326.80,330.06 327.20,328.58 327.60,322.63 328.00,314.56 328.40,306.79 328.80,301.74 329.20,301.23 329.60,302.87 330.00,305.56 330.40,308.68 330.80,311.60 331.20,314.86 331.60,318.76 332.00,322.33 332.40,324.57 332.80,324.79 333.20,324.05 333.60,322.88 334.00,321.59 334.40,320.50 334.80,319.55 335.20,318.51 335.60,317.48 336.00,316.54 336.40,315.79 336.80,315.32 337.20,315.20 337.60,315.31 338.00,315.53 338.40,315.84 338.80,316.19 339.20,316.56 339.60,316.92 340.00,317.28 340.40,317.74 340.80,318.25 341.20,318.75 341.60,319.18 342.00,319.49 342.40,319.60 342.80,319.00 343.20,317.48 343.60,315.50 344.00,313.49 344.40,311.88 344.80,310.89 345.20,310.11 345.60,309.43 346.00,308.77 346.40,308.05 346.80,307.20 347.20,305.82 347.60,304.67 348.00,305.04 348.40,306.09 348.80,305.39 349.20,299.43 349.60,290.85 350.00,283.14 350.40,279.80 350.80,282.77 351.20,289.28 351.60,295.70 352.00,301.22 352.40,306.83 352.80,311.61 353.20,314.95 353.60,317.96 354.00,320.57 354.40,322.41 354.80,323.10 355.20,321.59 355.60,317.94 356.00,313.46 356.40,309.47 356.80,307.30 357.20,307.88 357.60,310.22 358.00,312.90 358.40,314.61 358.80,315.81 359.20,316.93 359.60,317.85 360.00,318.47 360.40,318.70 360.80,318.63 361.20,318.43 361.60,318.14 362.00,317.76 362.40,317.34 362.80,316.87 363.20,315.98 363.60,314.70 364.00,313.25 364.40,311.84 364.80,310.68 365.20,310.00 365.60,310.01 366.00,310.76 366.40,311.97 366.80,313.34 367.20,314.56 367.60,315.36 368.00,316.00 368.40,316.61 368.80,317.14 369.20,317.54 369.60,317.77 370.00,317.78 370.40,317.62 370.80,317.34 371.20,316.94 371.60,316.46 372.00,315.92 372.40,315.35 372.80,314.58 373.20,313.27 373.60,311.61 374.00,309.77 374.40,307.97 374.80,306.38 375.20,305.20 375.60,304.63 376.00,305.23 376.40,307.56 376.80,310.76 377.20,313.92 377.60,316.43 378.00,319.14 378.40,321.29 378.80,321.84 379.20,320.58 379.60,318.27 380.00,315.62 380.40,313.40 380.80,311.44 381.20,309.35 381.60,307.55 382.00,306.46 382.40,306.63 382.80,308.81 383.20,311.96 383.60,314.78 384.00,316.00 384.40,315.74 384.80,315.10 385.20,314.33 385.60,313.64 386.00,313.21 386.40,312.82 386.80,312.44 387.20,312.11 387.60,311.84 388.00,311.66 388.40,311.60 388.80,311.76 389.20,312.17 389.60,312.73 390.00,313.32 390.40,313.85 390.80,314.21 391.20,314.29 391.60,314.15 392.00,313.86 392.40,313.46 392.80,313.01 393.20,312.55 393.60,312.14 394.00,311.81 394.40,311.63 394.80,311.63 395.20,311.83 395.60,312.16 396.00,312.55 396.40,312.93 396.80,313.24 397.20,313.39 397.60,313.40 398.00,313.38 398.40,313.36 398.80,313.32 399.20,313.28 399.60,313.24 400.00,313.19 400.40,313.15 400.80,313.11 401.20,313.07 401.60,313.04 402.00,313.01 402.40,313.00 402.80,313.00 403.20,313.01 403.60,313.01 404.00,313.03 404.40,313.05 404.80,313.07 405.20,313.10 405.60,313.13 406.00,313.16 406.40,313.21 406.80,313.25 407.20,313.30 407.60,313.36 408.50,313.44 409.50,312.50 410.50,312.93 411.50,313.22 412.50,312.91 413.50,312.80 414.50,312.93 415.50,312.66 416.50,313.03 417.50,313.61 418.50,313.29 419.50,312.72 420.50,312.78 421.50,312.90 422.50,313.25 423.50,312.79 424.50,312.83 425.50,313.22 426.50,313.22 427.50,312.91 428.50,312.72 429.50,312.61 430.50,312.83 431.50,312.44 432.50,313.19 433.50,312.84 434.50,313.12 435.50,313.47 436.50,313.29 437.50,312.71 438.50,313.22 439.50,313.29 440.50,312.81 441.50,312.76 442.50,312.97 443.50,312.60 444.50,313.37 445.50,312.40 446.50,312.72 447.50,312.93 448.50,312.94 449.50,313.04 450.50,313.07 451.50,312.95 452.50,313.28 453.50,312.47 454.50,313.00 455.50,312.82 456.50,313.03 457.50,313.06 458.50,312.77 459.50,312.84 460.50,313.20 461.50,313.09 462.50,312.83 463.50,313.51 464.50,313.58 465.50,312.63 466.50,313.08 467.50,313.63 468.50,313.20 469.50,313.06 470.50,312.95 471.50,312.86 472.50,312.95 473.50,312.86 474.50,313.19 475.50,312.90 476.50,312.89 477.50,312.70 478.50,312.99 479.50,312.78 480.50,312.95 481.50,313.26 482.50,313.09 483.50,313.13 484.50,313.09 485.50,313.01 486.50,312.97 487.50,312.92 488.50,313.19 489.50,312.73 490.50,313.34 491.50,313.01 492.50,312.81 493.50,312.88 494.50,312.83 495.50,313.04 496.50,312.82 497.50,313.29 498.50,312.80 499.50,312.43 500.50,312.82 501.50,312.50 502.50,312.99 503.50,313.26 504.50,313.16 505.50,312.67 506.50,312.81 507.50,313.44 508.50,313.08 509.50,313.00 510.50,313.26 511.50,313.61 512.50,313.32 513.50,313.03 514.50,313.09 515.50,313.15 516.50,312.85 517.50,312.74 518.50,313.01 519.50,312.76 520.50,312.98 521.50,313.02" fill="none" stroke="#000" stroke-width="1.1" stroke-linejoin="round"/>
<polyline points="47.50,443.90 48.50,444.20 50.00,445.60 51.00,446.02 51.90,444.90 52.80,445.16 53.70,445.14 54.60,445.35 55.50,445.57 56.40,445.03 57.30,444.91 58.20,444.63 59.10,444.88 60.00,445.39 60.90,445.22 61.80,444.83 62.70,444.79 63.60,444.11 64.50,444.54 65.40,444.87 66.30,445.11 67.20,444.56 68.10,444.80 69.00,445.77 69.90,444.43 70.80,445.08 71.70,445.28 72.60,445.07 73.50,444.92 74.40,445.18 75.30,445.20 76.20,445.17 77.10,444.54 78.00,445.15 78.90,444.90 79.80,445.01 80.70,445.23 81.60,444.91 82.50,443.83 83.40,443.24 84.30,444.90 85.20,445.54 86.10,445.54 87.00,444.95 87.90,443.17 88.80,444.08 89.70,445.38 90.60,444.71 91.50,445.09 92.40,443.83 93.30,443.52 94.20,444.19 95.10,444.87 96.00,445.19 96.90,445.51 97.80,445.55 98.70,445.17 99.60,445.13 100.50,444.91 101.40,445.34 102.30,445.11 103.20,445.41 104.10,445.81 105.00,445.19 105.90,444.68 106.80,444.90 107.70,444.69 108.60,444.78 109.50,445.66 110.40,445.28 111.30,444.67 112.20,445.43 113.10,445.64 114.00,445.07 114.90,444.96 115.80,445.08 116.70,445.30 117.60,445.42 118.50,445.61 119.40,445.62 120.30,445.43 121.20,443.75 122.10,442.75 123.00,444.16 123.90,445.14 124.80,445.31 125.70,445.07 126.60,445.48 127.50,443.64 128.40,441.04 129.30,444.89 130.20,445.42 131.10,445.28 132.00,445.52 132.90,445.57 133.80,445.32 134.70,444.34 135.60,444.96 136.50,445.04 137.40,444.86 138.30,445.27 139.20,445.62 140.10,445.03 141.00,444.80 141.90,445.91 142.80,445.04 143.70,444.77 144.60,445.28 145.50,445.25 146.40,444.14 147.30,443.41 148.20,443.32 149.10,444.42 150.00,445.22 150.90,445.47 151.80,444.97 152.70,445.10 153.60,444.03 154.50,444.19 155.40,443.81 156.30,445.47 157.20,445.17 158.10,445.16 159.00,445.45 159.90,445.51 160.80,445.64 161.70,445.32 162.60,444.99 163.50,445.01 164.40,445.38 165.30,445.40 166.20,445.69 167.10,445.32 168.00,445.37 168.90,445.03 169.80,444.08 170.70,443.71 171.60,444.40 172.50,444.62 173.40,445.75 174.30,444.90 175.20,445.63 176.10,445.41 177.00,445.80 177.90,445.55 178.80,445.16 179.70,445.13 180.60,445.23 181.50,445.26 182.40,444.97 183.30,444.94 184.20,445.09 185.10,443.71 186.00,444.71 186.90,444.70 187.80,445.24 188.70,445.49 189.60,445.18 190.50,445.47 191.40,444.64 192.30,445.59 193.20,444.99 194.10,445.42 195.00,445.26 195.90,444.30 196.80,444.94 196.90,445.00 200.00,442.10 202.90,441.00 204.00,441.10 206.90,438.20 209.90,434.20 212.30,430.20 213.90,422.30 215.40,408.50 216.20,406.50 217.40,412.40 218.20,426.30 219.40,437.20 220.80,435.20 222.20,427.30 224.20,425.30 226.70,427.30 228.70,428.30 230.10,430.20 231.70,428.30 234.10,424.30 235.60,422.30 236.60,424.30 238.00,418.40 239.60,411.40 240.60,414.40 242.00,422.30 243.00,410.40 244.20,365.40 245.10,394.60 246.10,421.30 247.10,416.40 248.10,431.20 249.50,420.30 251.10,408.50 252.10,406.10 253.50,411.40 255.40,420.30 258.40,428.30 260.40,433.20 262.40,429.30 264.20,436.20 265.50,422.30 266.90,414.40 268.30,435.20 269.90,418.40 271.30,398.60 272.90,390.00 273.90,400.50 275.00,414.40 275.80,424.30 277.40,412.40 278.80,416.40 280.20,408.30 281.30,416.70 283.30,430.80 285.80,416.70 287.50,423.30 289.20,428.30 290.80,428.30 292.50,430.00 293.70,435.00 295.00,420.00 296.20,352.00 296.80,382.00 297.30,356.00 297.80,394.00 298.40,352.00 299.00,372.00 299.70,391.70 300.80,418.30 302.20,410.00 303.30,415.00 305.00,402.50 306.30,405.80 307.50,410.80 308.70,425.00 309.50,436.70 310.80,420.00 312.00,430.00 313.30,441.70 315.00,425.00 316.70,413.30 318.00,421.70 319.20,433.30 320.00,440.00 321.70,420.00 322.50,408.30 323.30,413.30 324.50,385.80 325.30,395.00 326.20,408.30 327.20,386.70 328.00,405.00 329.20,434.20 330.30,408.30 331.20,399.20 332.50,406.70 333.70,420.00 335.30,426.70 336.70,423.30 338.00,420.00 339.20,421.70 340.30,425.80 341.70,415.00 343.30,409.20 344.70,412.50 345.80,423.30 347.00,420.00 348.30,403.30 349.30,388.30 350.20,379.20 351.00,403.30 351.70,418.30 352.50,387.50 353.30,398.30 354.20,436.70 355.00,400.00 356.00,408.30 357.00,425.00 358.00,434.20 359.70,421.70 361.30,428.30 363.30,430.00 365.80,432.50 367.50,436.70 368.80,445.80 370.00,440.00 371.70,428.30 373.30,416.70 374.50,411.70 375.80,421.70 377.00,433.30 378.30,431.70 379.70,439.20 380.80,433.30 382.50,435.80 384.20,441.70 385.80,443.30 387.50,440.80 390.00,443.30 393.30,435.80 395.80,439.20 398.30,441.70 401.70,444.20 403.30,440.80 405.00,444.20 410.00,444.40 411.00,445.09 412.00,445.26 413.00,444.83 414.00,444.57 415.00,444.01 416.00,444.49 417.00,444.66 418.00,444.53 419.00,444.72 420.00,444.60 421.00,445.15 422.00,445.47 423.00,444.93 424.00,444.80 425.00,444.35 426.00,443.73 427.00,443.96 428.00,443.35 429.00,443.65 430.00,443.98 431.00,444.39 432.00,444.52 433.00,444.56 434.00,444.13 435.00,443.62 436.00,443.47 437.00,443.15 438.00,443.22 439.00,443.69 440.00,444.31 441.00,444.34 442.00,444.48 443.00,444.22 444.00,444.23 445.00,443.93 446.00,444.10 447.00,443.55 448.00,444.07 449.00,444.77 450.00,444.82 451.00,444.95 452.00,445.41 453.00,444.85 454.00,443.42 455.00,441.94 456.00,443.71 457.00,444.83 458.00,443.57 459.00,442.40 460.00,443.96 461.00,445.02 462.00,444.32 463.00,442.62 464.00,442.61 465.00,444.09 466.00,445.00 467.00,445.18 468.00,444.99 469.00,444.67 470.00,445.04 471.00,445.25 472.00,445.42 473.00,444.64 474.00,445.40 475.00,444.04 476.00,443.99 477.00,444.51 478.00,445.08 479.00,445.11 480.00,444.87 481.00,445.23 482.00,444.96 483.00,444.59 484.00,445.60 485.00,444.85 486.00,444.76 487.00,444.53 488.00,445.33 489.00,445.41 490.00,445.41 491.00,445.10 492.00,444.86 493.00,445.06 494.00,444.66 495.00,444.71 496.00,444.72 497.00,444.10 498.00,444.67 499.00,445.03 500.00,445.48 501.00,445.36 502.00,445.09 503.00,445.34 504.00,444.94 505.00,445.03 506.00,445.24 507.00,444.55 508.00,444.44 509.00,444.54 510.00,445.09 511.00,445.43 512.00,444.95 513.00,445.15 514.00,444.92 515.00,444.87 516.00,444.85 517.00,445.39 518.00,445.57 519.00,445.20 520.00,444.96 521.00,445.24 522.00,445.03" fill="none" stroke="#000" stroke-width="1.1" stroke-linejoin="round"/>
<line x1="128.4" y1="162.5" x2="454.2" y2="162.5" stroke="#0000ff" stroke-width="1.4" stroke-dasharray="9 3.3 2.3 3.4"/>
<polyline points="47.5,304.8 178.8,304.8 178.8,337.5 417,337.5 417,304.8 520,304.8" fill="none" stroke="#4646ff" stroke-width="1.6" stroke-dasharray="8.5 3.7 2 3.8"/>
<polyline points="47.5,376.7 197.2,376.7 197.2,446.5 405.8,446.5 405.8,376.7 522.5,376.7" fill="none" stroke="#ff33ff" stroke-width="1.6" stroke-dasharray="11 7"/>
<polygon points="237.00,68.20 247.00,68.20 242.00,76.80" fill="none" stroke="#ff0000" stroke-width="1.3"/>
<polygon points="264.70,73.10 274.70,73.10 269.70,81.70" fill="none" stroke="#ff0000" stroke-width="1.3"/>
<polygon points="291.90,67.20 301.90,67.20 296.90,75.80" fill="none" stroke="#ff0000" stroke-width="1.3"/>
<polygon points="317.90,65.10 327.90,65.10 322.90,73.70" fill="none" stroke="#ff0000" stroke-width="1.3"/>
<polygon points="345.70,56.95 355.70,56.95 350.70,65.55" fill="none" stroke="#ff0000" stroke-width="1.3"/>
<circle cx="241.2" cy="170.4" r="4.5" fill="none" stroke="#ff0000" stroke-width="1.3"/>
<circle cx="269.1" cy="158.7" r="4.5" fill="none" stroke="#ff0000" stroke-width="1.3"/>
<circle cx="296.2" cy="157.4" r="4.5" fill="none" stroke="#ff0000" stroke-width="1.3"/>
<circle cx="322.2" cy="162.6" r="4.5" fill="none" stroke="#ff0000" stroke-width="1.3"/>
<circle cx="349.7" cy="172.6" r="4.5" fill="none" stroke="#ff0000" stroke-width="1.3"/>
<rect x="239.50" y="276.70" width="6.4" height="6.4" fill="none" stroke="#ff0000" stroke-width="1.2"/>
<rect x="266.70" y="278.00" width="6.4" height="6.4" fill="none" stroke="#ff0000" stroke-width="1.2"/>
<rect x="294.10" y="264.60" width="6.4" height="6.4" fill="none" stroke="#ff0000" stroke-width="1.2"/>
<rect x="319.90" y="269.80" width="6.4" height="6.4" fill="none" stroke="#ff0000" stroke-width="1.2"/>
<rect x="347.40" y="276.40" width="6.4" height="6.4" fill="none" stroke="#ff0000" stroke-width="1.2"/>
<g font-family="Liberation Sans, Arial, sans-serif" stroke="#000" stroke-width="0.22" font-size="12" fill="#000" text-anchor="end">
<text x="44.6" y="16.80">0.92</text>
<text x="44.6" y="35.82">0.9</text>
<text x="44.6" y="54.84">0.88</text>
<text x="44.6" y="73.86">0.86</text>
<text x="44.6" y="92.88">0.84</text>
<text x="44.6" y="111.90">0.82</text>
<text x="44.6" y="126.80">20</text>
<text x="44.6" y="176.80">10</text>
<text x="44.6" y="226.80">0</text>
<text x="44.6" y="250.36">20</text>
<text x="44.6" y="283.02">15</text>
<text x="44.6" y="315.68">10</text>
<text x="44.6" y="346.30">1.5</text>
<text x="44.6" y="381.13">1</text>
<text x="44.6" y="415.97">0.5</text>
<text x="44.6" y="450.80">0</text>
</g>
<g font-family="Liberation Sans, Arial, sans-serif" stroke="#000" stroke-width="0.22" font-size="12" fill="#000" text-anchor="middle">
<text x="47.50" y="461.8">0</text>
<text x="128.83" y="461.8">2</text>
<text x="210.17" y="461.8">4</text>
<text x="291.50" y="461.8">6</text>
<text x="372.83" y="461.8">8</text>
<text x="454.17" y="461.8">10</text>
<text x="535.50" y="461.8">12</text>
</g>
<text font-family="Liberation Sans, Arial, sans-serif" stroke="#000" stroke-width="0.22" font-size="14.5" x="47.4" y="121.3">&#215;</text>
<text font-family="Liberation Sans, Arial, sans-serif" stroke="#000" stroke-width="0.22" font-size="12.2" x="57.8" y="119.2">10</text>
<text font-family="Liberation Sans, Arial, sans-serif" stroke="#000" stroke-width="0.22" font-size="9.6" x="70.9" y="113.0">-3</text>
<text font-family="Liberation Sans, Arial, sans-serif" stroke="#000" stroke-width="0.22" font-size="13" x="291.5" y="472.4" text-anchor="middle">Time(s)</text>
<text font-family="Liberation Sans, Arial, sans-serif" stroke="#000" stroke-width="0.22" font-size="13" text-anchor="middle" transform="translate(16.6,64.5) rotate(-90)">(m)</text>
<text font-family="Liberation Sans, Arial, sans-serif" stroke="#000" stroke-width="0.22" font-size="13" text-anchor="middle" transform="translate(25.7,175) rotate(-90)">(m/s)</text>
<text font-family="Liberation Sans, Arial, sans-serif" stroke="#000" stroke-width="0.22" font-size="13" text-anchor="middle" transform="translate(27.3,285.4) rotate(-90)">(m/s<tspan font-size="9.6" dx="0.3" dy="-6.6">2</tspan><tspan dy="6.6">)</tspan></text>
<text font-family="Liberation Sans, Arial, sans-serif" stroke="#000" stroke-width="0.22" font-size="13" text-anchor="middle" transform="translate(22.9,394.5) rotate(-90)">(deg/s)</text>
<rect x="158.7" y="90.4" width="364.70" height="19.60" fill="#fff" stroke="#333333" stroke-width="1.1"/>
<line x1="163" y1="100.0" x2="208" y2="100.0" stroke="#000" stroke-width="1.1"/>
<text font-family="Liberation Sans, Arial, sans-serif" stroke="#000" stroke-width="0.22" font-size="12" x="211.6" y="104.9">vertical position of one marker</text>
<polygon points="398.25,97.4 408.25,97.4 403.25,106" fill="none" stroke="#ff0000" stroke-width="1.3"/>
<text font-family="Liberation Sans, Arial, sans-serif" stroke="#000" stroke-width="0.22" font-size="12" x="429.6" y="104.9">low peak indices</text>
<rect x="70.7" y="129.6" width="452.40" height="19.40" fill="#fff" stroke="#333333" stroke-width="1.1"/>
<line x1="75.2" y1="139.4" x2="120" y2="139.4" stroke="#000" stroke-width="1.1"/>
<text font-family="Liberation Sans, Arial, sans-serif" stroke="#000" stroke-width="0.22" font-size="12" x="123.4" y="144.0">velocity along walking direction</text>
<circle cx="320.5" cy="139.5" r="4.5" fill="none" stroke="#ff0000" stroke-width="1.3"/>
<text font-family="Liberation Sans, Arial, sans-serif" stroke="#000" stroke-width="0.22" font-size="12" x="346.9" y="144.0">velocity at double stance indices</text>
<rect x="92.3" y="239.6" width="431.00" height="24.40" fill="#fff" stroke="#333333" stroke-width="1.1"/>
<line x1="96.6" y1="251.9" x2="141" y2="251.9" stroke="#000" stroke-width="1.1"/>
<text font-family="Liberation Sans, Arial, sans-serif" stroke="#000" stroke-width="0.22" font-size="12" x="145.2" y="254.5">||y<tspan font-size="9.6" x="157.3" y="259.5">a</tspan><tspan x="162.9" y="254.5">||</tspan></text>
<rect x="198" y="248.9" width="6.4" height="6.4" fill="none" stroke="#ff0000" stroke-width="1.2"/>
<text font-family="Liberation Sans, Arial, sans-serif" stroke="#000" stroke-width="0.22" font-size="12" x="227.3" y="256.5">high peak indices</text>
<line x1="329" y1="252.1" x2="375" y2="252.1" stroke="#4646ff" stroke-width="1.6" stroke-dasharray="8.5 3.7 2 3.8"/>
<text font-family="Liberation Sans, Arial, sans-serif" stroke="#000" stroke-width="0.22" font-size="12" x="377.8" y="256.5">GM update enabled signal</text>
<rect x="270.0" y="348.5" width="252.70" height="25.00" fill="#fff" stroke="#333333" stroke-width="1.1"/>
<line x1="274.5" y1="361.3" x2="319.2" y2="361.3" stroke="#000" stroke-width="1.1"/>
<text font-family="Liberation Sans, Arial, sans-serif" stroke="#000" stroke-width="0.22" font-size="12" x="322.9" y="363.2">||y<tspan font-size="9.6" x="334.7" y="368.2">g</tspan><tspan x="341.1" y="363.2">||</tspan></text>
<line x1="356.2" y1="361.3" x2="401.1" y2="361.3" stroke="#ff33ff" stroke-width="1.6" stroke-dasharray="11 7"/>
<text font-family="Liberation Sans, Arial, sans-serif" stroke="#000" stroke-width="0.22" font-size="12" x="404.4" y="365.7">ZARU enabled signal</text>
</svg>
</body></html>
